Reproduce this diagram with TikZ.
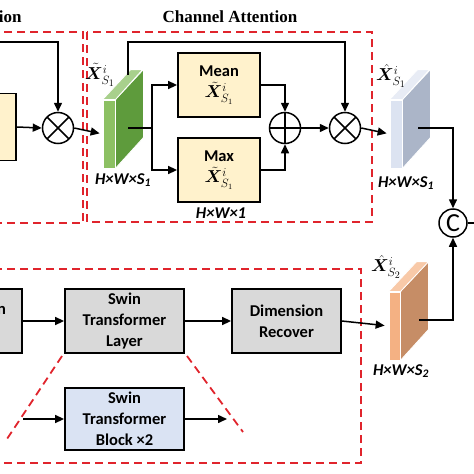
\documentclass[tikz,border=0pt]{standalone}
\usepackage{amsmath, bm}
\usepackage{fontspec}
\setmainfont{Liberation Serif}
\setsansfont{Carlito}
\usetikzlibrary{arrows.meta}

\definecolor{dashred}{HTML}{E0242C}
\definecolor{boxyellow}{HTML}{FFF2CC}
\definecolor{boxgray}{HTML}{D9D9D9}
\definecolor{boxblue}{HTML}{DAE3F3}
\definecolor{greenfront}{HTML}{8CC063}
\definecolor{greenside}{HTML}{5E9B3C}
\definecolor{greentop}{HTML}{A8D08C}
\definecolor{bluefront}{HTML}{DCE3F1}
\definecolor{blueside}{HTML}{ABB5C8}
\definecolor{bluetop}{HTML}{E8ECF5}
\definecolor{orangefront}{HTML}{F4B183}
\definecolor{orangeside}{HTML}{C68D66}
\definecolor{orangetop}{HTML}{F8C9A8}

% side and top faces of a feature map, hung on its front node
\newcommand\featmap[3]{%
  \filldraw[draw=white, line width=0.8pt, fill=#2] (#1.north east) -- ++(28,-30) -- ++(0,68) -- (#1.south east) -- cycle;
  \filldraw[draw=white, line width=0.8pt, fill=#3] (#1.north west) -- ++(28,-30) -- ++(12,0) -- (#1.north east) -- cycle;}

\begin{document}
\begin{tikzpicture}[x=1pt, y=-1pt, >={Triangle[length=9pt,width=8pt]},
  font=\sffamily\bfseries\fontsize{16.5}{21}\selectfont,
  block/.style={draw, line width=1.8pt, align=center, inner sep=0pt},
  ybox/.style={block, fill=boxyellow, minimum width=82pt, minimum height=64pt},
  gbox/.style={block, fill=boxgray, minimum height=64pt},
  bbox/.style={block, fill=boxblue, minimum height=62pt},
  opcirc/.style={circle, draw, line width=1.5pt, minimum size=31pt, inner sep=0pt},
  otimes/.style={opcirc, path picture={\draw[line width=1.5pt]
      (path picture bounding box.north west) -- (path picture bounding box.south east)
      (path picture bounding box.north east) -- (path picture bounding box.south west);}},
  oplus/.style={opcirc, path picture={\draw[line width=1.5pt]
      (path picture bounding box.north) -- (path picture bounding box.south)
      (path picture bounding box.west) -- (path picture bounding box.east);}},
  fmface/.style={draw=white, line width=0.8pt, minimum width=12pt, minimum height=68pt, inner sep=0pt},
  link/.style={line width=1.5pt},
  redframe/.style={draw=dashred, line width=1.8pt, dash pattern=on 8pt off 5pt},
  dimlabel/.style={font=\sffamily\bfseries\itshape\fontsize{16.5}{18}\selectfont},
  mathlabel/.style={font=\fontsize{17.28}{20}\selectfont},
  title/.style={font=\rmfamily\bfseries\fontsize{17}{19}\selectfont}]

  \useasboundingbox (0,0) rectangle (474,474);

  % titles and dashed frames
  \node[title, anchor=east] (ttlS) at (25,17) {tion};
  \node[title] (ttlC) at (230,17) {Channel Attention};
  \draw[redframe] (-10,32) rectangle (83,223);
  \draw[redframe] (87,32) rectangle (372,222);
  \draw[redframe] (-10,269) rectangle (361,463);
  \draw[redframe] (62,356) -- (5,442);
  \draw[redframe] (187,356) -- (243,432);

  % spatial part (cut off)
  \node[ybox, minimum width=40pt, minimum height=67pt] (sa) at (-4,127) {};
  \coordinate (busS) at (-10,42);
  \node[otimes] (otA) at (58,128) {};
  \draw[link,->] (busS) -| (otA.north);
  \draw[link,->] (sa.east) -- (otA.west);

  % channel attention
  \node[fmface, fill=greenfront] (fmA) at (109,134) {};
  \featmap{fmA}{greenside}{greentop}
  \node[mathlabel] (xA) at (100,75) {$\tilde{\bm X}^{i}_{S_1}$};
  \node[dimlabel] (dA) at (123,180) {H×W×S\textsubscript{1}};
  \draw[link,->,shorten >=3pt] (otA.east) -- (fmA.west);

  \node[ybox] (mean) at (219,85) {Mean\\$\tilde{\bm X}^{i}_{S_1}$};
  \node[ybox] (max) at (219,170) {Max\\$\tilde{\bm X}^{i}_{S_1}$};
  \node[dimlabel] (dM) at (221,213) {H×W×1};
  \coordinate (sideA) at (128,128);
  \coordinate (split) at (152,128);
  \draw[link] (sideA) -- (split);
  \draw[link,->] (split) |- (mean.west);
  \draw[link,->] (split) |- (max.west);

  \node[oplus] (plus) at (285,128) {};
  \draw[link,->] (mean.east) -| (plus.north);
  \draw[link,->] (max.east) -| (plus.south);
  \node[otimes] (otB) at (345,128) {};
  \draw[link,->] (plus.east) -- (otB.west);
  \coordinate (tapA) at (128,75);
  \draw[link,->] (tapA) |- (200,42) -| (otB.north);

  \node[fmface, fill=bluefront] (fmB) at (396,134) {};
  \featmap{fmB}{blueside}{bluetop}
  \node[mathlabel] (xB) at (391,76) {$\hat{\bm X}^{i}_{S_1}$};
  \node[dimlabel] (dB) at (406,183) {H×W×S\textsubscript{1}};
  \draw[link,->,shorten >=3pt] (otB.east) -- (fmB.west);

  % concat
  \node[opcirc, minimum size=28pt, font=\sffamily\fontsize{26}{26}\selectfont] (cat) at (453,223) {C};
  \coordinate (sideB) at (418,128);
  \coordinate (outR) at (480,223);
  \draw[link,->] (sideB) -| (cat.north);
  \draw[link] (cat.east) -- (outR);

  % swin branch
  \node[gbox, minimum width=42pt, text width=10pt, align=right] (prev) at (1,321) {n\\\mbox{}};
  \node[gbox, minimum width=119pt] (stl) at (124.5,321) {Swin\\Transformer\\Layer};
  \node[gbox, minimum width=109pt] (dr) at (286.5,321) {Dimension\\Recover};
  \node[bbox, minimum width=119pt] (stb) at (124.5,419) {Swin\\Transformer\\Block ×2};
  \coordinate (inL) at (23,419);
  \coordinate (inR) at (227,419);
  \draw[link,->] (prev.east) -- (stl.west);
  \draw[link,->] (stl.east) -- (dr.west);
  \draw[link,->] (inL) -- (stb.west);
  \draw[link,->] (stb.east) -- (inR);

  \node[fmface, minimum width=11pt, fill=orangefront] (fmC) at (394.5,326) {};
  \featmap{fmC}{orangeside}{orangetop}
  \node[mathlabel] (xC) at (386,267) {$\hat{\bm X}^{i}_{S_2}$};
  \node[dimlabel] (dC) at (401,371) {H×W×S\textsubscript{2}};
  \draw[link,->,shorten >=4pt] (dr.east) -- (fmC.west);
  \coordinate (sideC) at (419,320);
  \draw[link,->] (sideC) -| (cat.south);
\end{tikzpicture}
\end{document}
